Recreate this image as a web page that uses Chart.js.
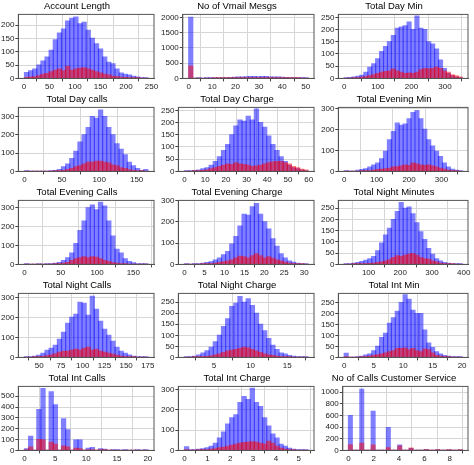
<!DOCTYPE html>
<html>
<head>
<meta charset="utf-8">
<script src="https://cdn.jsdelivr.net/npm/chart.js@4.4.0/dist/chart.umd.min.js"></script>
<style>
  body { margin: 0; background: #fff; font-family: "DejaVu Sans", sans-serif; }
  #grid { display: grid; grid-template-columns: 160px 160px 154px; grid-template-rows: repeat(5, 93px); width: 474px; height: 465px; }
  .cell { position: relative; }
</style>
</head>
<body>
<div id="grid"></div>
<script>
// titles and histogram ranges [min, max] for each panel (30 bins)
const titles = ['Account Length', 'No of Vmail Mesgs', 'Total Day Min', 'Total Day calls', 'Total Day Charge',
  'Total Evening Min', 'Total Evening Calls', 'Total Evening Charge', 'Total Night Minutes', 'Total Night Calls',
  'Total Night Charge', 'Total Int Min', 'Total Int Calls', 'Total Int Charge', 'No of Calls Customer Service'];
const ranges = [[1, 243], [0, 51], [0, 351], [0, 165], [0, 59.6], [0, 363.7], [0, 170], [0, 30.9], [23.2, 395],
  [33, 175], [1, 17.8], [0, 20], [0, 20], [0, 5.4], [0, 9]];
const yMax = [240, 2100, 262, 350, 262, 305, 340, 300, 285, 320, 290, 292, 590, 315, 1100];
const yStep = [50, 500, 50, 100, 50, 100, 100, 100, 50, 100, 50, 50, 100, 100, 200];
const xTicks = [[0, 50, 100, 150, 200, 250], [0, 10, 20, 30, 40, 50], [0, 100, 200, 300], [0, 50, 100, 150],
  [0, 10, 20, 30, 40, 50, 60], [0, 100, 200, 300], [0, 50, 100, 150], [0, 5, 10, 15, 20, 25, 30], [100, 200, 300, 400],
  [50, 75, 100, 125, 150, 175], [5, 10, 15], [0, 5, 10, 15, 20], [0, 5, 10, 15, 20], [0, 1, 2, 3, 4, 5], [0, 2, 4, 6, 8]];

const accountLengthBlue = [22,28,35,50,65,80,105,145,170,185,215,225,230,205,210,180,150,130,110,80,60,55,35,20,15,12,8,5,2,2];
const accountLengthRed = [3,5,6,10,15,18,25,30,35,28,45,30,35,38,40,35,30,25,20,15,12,8,6,4,3,2,1,1,0,0];
const vmailBlue = [2000,0,5,0,5,5,8,10,15,20,30,35,40,45,50,55,60,50,60,55,45,45,40,35,25,20,10,8,3,2];
const vmailRed = [400,0,0,0,0,0,2,3,4,5,8,8,10,10,10,10,12,10,10,8,8,6,5,5,3,2,1,1,0,0];
const dayMinBlue = [2,3,5,8,12,25,45,60,80,110,130,150,175,205,210,215,230,200,255,205,200,150,140,120,75,40,20,10,5,2];
const dayMinRed = [0,0,1,2,4,6,10,15,20,25,28,30,38,30,25,20,22,20,25,35,40,38,40,45,40,30,25,15,10,5];
const dayCallsBlue = [1,0,0,0,0,0,2,5,10,25,40,70,110,160,200,240,300,290,335,300,240,200,150,120,90,50,30,15,5,10];
const dayCallsRed = [0,0,0,0,0,0,0,1,3,5,10,15,25,30,40,50,50,55,55,50,45,35,30,20,15,8,5,3,1,0];
const dayChargeBlue = [2,2,3,5,10,15,25,40,60,85,110,150,185,210,205,225,210,255,200,180,145,110,85,60,40,25,15,10,5,2];
const dayChargeRed = [0,0,1,2,3,5,10,15,20,25,30,28,35,30,28,25,20,22,25,30,35,38,40,40,35,30,20,15,8,5];
const eveMinBlue = [2,0,0,5,8,12,20,30,40,60,95,150,190,230,220,225,250,280,290,250,200,150,120,95,70,40,20,10,5,2];
const eveMinRed = [0,0,0,0,1,2,3,5,8,10,12,15,20,22,25,30,28,40,35,30,28,30,25,20,15,10,5,3,1,0];
const eveCallsBlue = [2,0,0,3,0,2,3,5,10,20,35,60,110,180,230,300,315,290,330,310,230,150,80,60,30,15,8,3,2,1];
const eveCallsRed = [0,0,0,0,0,0,0,1,3,5,10,20,30,35,40,35,40,38,30,20,15,8,5,3,1,0,0,0,0,0];
const eveChargeBlue = [2,0,1,3,5,8,12,20,30,45,60,95,130,180,235,230,270,285,235,200,165,120,85,50,30,15,10,5,3,2];
const eveChargeRed = [0,0,0,0,1,2,3,5,8,12,15,20,30,38,35,30,40,50,40,30,35,28,20,15,10,5,3,2,1,0];
const nightMinBlue = [2,3,5,8,12,18,25,35,60,95,130,160,200,235,275,250,255,225,185,145,110,70,45,25,15,8,5,3,1,1];
const nightMinRed = [0,0,1,1,2,3,4,5,8,10,15,20,30,38,35,40,45,48,40,30,25,22,15,10,5,3,2,1,0,0];
const nightCallsBlue = [2,3,5,10,20,35,45,60,90,125,170,200,215,275,270,210,305,240,180,140,110,80,50,30,20,12,5,3,1,1];
const nightCallsRed = [0,0,1,2,4,8,12,18,25,30,30,35,40,35,45,50,35,40,30,25,20,15,10,5,3,2,1,0,0,0];
const nightChargeBlue = [2,3,5,10,20,30,45,70,100,140,175,230,245,275,250,265,235,200,150,120,85,55,35,20,15,8,5,2,1,1];
const nightChargeRed = [0,0,1,1,2,4,6,10,15,22,28,32,35,40,45,42,35,28,22,15,10,8,5,3,2,1,0,0,0,0];
const intMinBlue = [18,0,0,2,5,10,15,30,50,90,110,155,180,210,250,285,265,215,200,200,125,65,45,25,15,8,5,3,1,1];
const intMinRed = [2,0,0,0,1,2,5,8,12,15,20,25,30,40,40,42,35,40,30,25,38,35,20,8,5,3,1,0,0,0];
const intCallsBlue = [15,130,0,375,570,0,540,420,0,290,190,0,95,95,0,20,25,0,15,10,0,5,5,0,5,0,0,3,0,1];
const intCallsRed = [5,30,0,100,95,0,75,55,0,40,30,0,20,15,0,5,3,0,2,1,0,0,0,0,0,0,0,0,0,0];
const intChargeBlue = [18,2,3,5,8,12,20,35,60,90,130,160,175,235,265,250,305,235,215,160,120,80,60,30,20,10,5,3,2,1];
const intChargeRed = [2,0,0,1,2,3,5,8,12,15,20,25,30,35,38,40,42,40,35,30,45,35,20,10,5,3,1,0,0,0];
const custServBlue = [600,0,0,1050,0,0,670,0,0,0,390,0,0,90,0,0,30,0,0,0,15,0,0,8,0,0,2,0,0,1];
const custServRed = [95,0,0,120,0,0,90,0,0,0,45,0,0,75,0,0,40,0,0,0,10,0,0,5,0,0,1,0,0,1];

const blues = [accountLengthBlue, vmailBlue, dayMinBlue, dayCallsBlue, dayChargeBlue, eveMinBlue, eveCallsBlue,
  eveChargeBlue, nightMinBlue, nightCallsBlue, nightChargeBlue, intMinBlue, intCallsBlue, intChargeBlue, custServBlue];
const reds = [accountLengthRed, vmailRed, dayMinRed, dayCallsRed, dayChargeRed, eveMinRed, eveCallsRed,
  eveChargeRed, nightMinRed, nightCallsRed, nightChargeRed, intMinRed, intCallsRed, intChargeRed, custServRed];

const grid = document.getElementById('grid');

titles.forEach((title, i) => {
  const cell = document.createElement('div');
  cell.className = 'cell';
  const canvas = document.createElement('canvas');
  cell.appendChild(canvas);
  grid.appendChild(cell);

  const [lo, hi] = ranges[i];
  const w = (hi - lo) / 30;
  const toPoints = arr => arr.map((v, k) => ({ x: lo + (k + 0.5) * w, y: v }));
  const pad = (hi - lo) * 0.05;
  const yTicks = [];
  for (let v = 0; v <= yMax[i]; v += yStep[i]) yTicks.push({ value: v });

  new Chart(canvas, {
    type: 'bar',
    data: {
      datasets: [
        { data: toPoints(blues[i]), backgroundColor: 'rgba(0,0,255,0.5)', order: 1, inflateAmount: 0.6 },
        { data: toPoints(reds[i]), backgroundColor: 'rgba(255,0,0,0.5)', order: 0, inflateAmount: 0.6 }
      ]
    },
    options: {
      animation: false,
      responsive: true,
      maintainAspectRatio: false,
      grouped: false,
      barPercentage: 1,
      categoryPercentage: 1,
      layout: { padding: { left: 0, right: 6, top: 0, bottom: 0 } },
      plugins: {
        legend: { display: false },
        tooltip: { enabled: false },
        title: { display: true, text: title, color: '#000', font: { size: 9.5, weight: 'normal' }, padding: { top: 1, bottom: 2 } }
      },
      scales: {
        x: {
          type: 'linear', offset: false,
          min: lo - pad, max: hi + pad,
          afterBuildTicks: ax => { ax.ticks = xTicks[i].map(v => ({ value: v })); },
          ticks: { color: '#222', font: { size: 8 }, maxRotation: 0, padding: 1, callback: v => String(v) },
          grid: { color: '#d6d6d6', tickLength: 3, tickColor: '#444' },
          border: { color: '#555' }
        },
        y: {
          min: 0, max: yMax[i],
          afterBuildTicks: ax => { ax.ticks = yTicks; },
          ticks: { color: '#222', font: { size: 8 }, padding: 1, callback: v => String(v) },
          grid: { color: '#d6d6d6', tickLength: 3, tickColor: '#444' },
          border: { color: '#555' }
        }
      }
    },
    plugins: [{
      id: 'frame',
      afterDraw(chart) {
        const { ctx, chartArea: a } = chart;
        ctx.save();
        ctx.strokeStyle = '#555';
        ctx.lineWidth = 1;
        ctx.strokeRect(a.left, a.top, a.right - a.left, a.bottom - a.top);
        ctx.restore();
      }
    }]
  });
});
</script>
</body>
</html>
